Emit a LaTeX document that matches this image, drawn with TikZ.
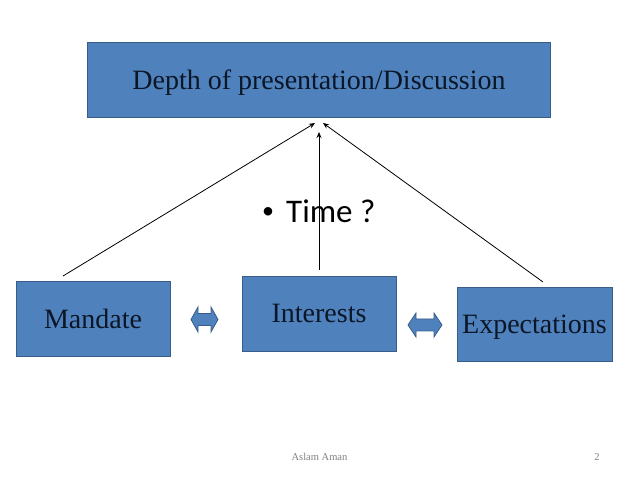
\documentclass[tikz,border=0pt]{standalone}
\usepackage{fontspec}
\setmainfont{Liberation Serif}
\newfontfamily\calib{Carlito}
\usetikzlibrary{arrows.meta}
\definecolor{boxfill}{HTML}{4F81BD}
\definecolor{boxline}{HTML}{385D8A}
\definecolor{footgray}{HTML}{808080}
\definecolor{boxink}{HTML}{0B1626}
\tikzset{
  bluebox/.style={draw=boxline, fill=boxfill, line width=0.9pt, inner sep=0pt, rectangle},
  boxtext/.style={anchor=base, inner sep=0pt, text=boxink, font=\fontsize{28}{30}\selectfont},
  conn/.style={draw=black, line width=0.8pt, -{Stealth[length=6pt,width=5pt]}},
  dblarrow/.style={draw=boxline, fill=boxfill, line width=0.8pt},
  foot/.style={anchor=base, inner sep=0pt, text=footgray, font=\fontsize{10.5}{12}\selectfont}
}
\begin{document}
\begin{tikzpicture}[x=1pt,y=-1pt]
\useasboundingbox (0,0) rectangle (638,478);
% boxes
\node[bluebox, minimum width=463pt, minimum height=75pt] (depth) at (319,79.5) {};
\node[bluebox, minimum width=154pt, minimum height=75pt] (mand) at (93,318.5) {};
\node[bluebox, minimum width=154pt, minimum height=75pt] (intr) at (319,313.5) {};
\node[bluebox, minimum width=155pt, minimum height=74pt] (expt) at (534.5,324) {};
% box texts
\node[boxtext] (tdepth) at (319,90) {Depth of presentation/Discussion};
\node[boxtext] (tmand) at (93,329) {Mandate};
\node[boxtext] (tintr) at (319,323) {Interests};
\node[boxtext] (texpt) at (534.5,334) {Expectations};
% bullet
\node[anchor=base, inner sep=0pt, font=\calib\fontsize{24}{28}\selectfont] (bul) at (268,219) {•};
\node[anchor=base west, inner sep=0pt, font=\calib\fontsize{33}{36}\selectfont] (time) at (286,223) {Time ?};
% double arrows
\draw[dblarrow] (191,319.5) -- (198,307) -- (198,313.5) -- (211,313.5) -- (211,307) -- (218,319.5)
  -- (211,332) -- (211,325.5) -- (198,325.5) -- (198,332) -- cycle;
\draw[dblarrow] (408,325) -- (416,313) -- (416,319) -- (434,319) -- (434,313) -- (442,325)
  -- (434,337) -- (434,331) -- (416,331) -- (416,337) -- cycle;
% connectors
\coordinate (sm) at (63,276);
\coordinate (si) at (319,270);
\coordinate (se) at (543,282);
\coordinate (em) at (315,123);
\coordinate (ei) at (319,132);
\coordinate (ee) at (323,123);
\draw[conn] (sm) -- (em);
\draw[conn] (si) -- (ei);
\draw[conn] (se) -- (ee);
% footer
\node[foot] (author) at (319.5,461) {Aslam Aman};
\node[foot] (page) at (597,461) {2};
\end{tikzpicture}
\end{document}
